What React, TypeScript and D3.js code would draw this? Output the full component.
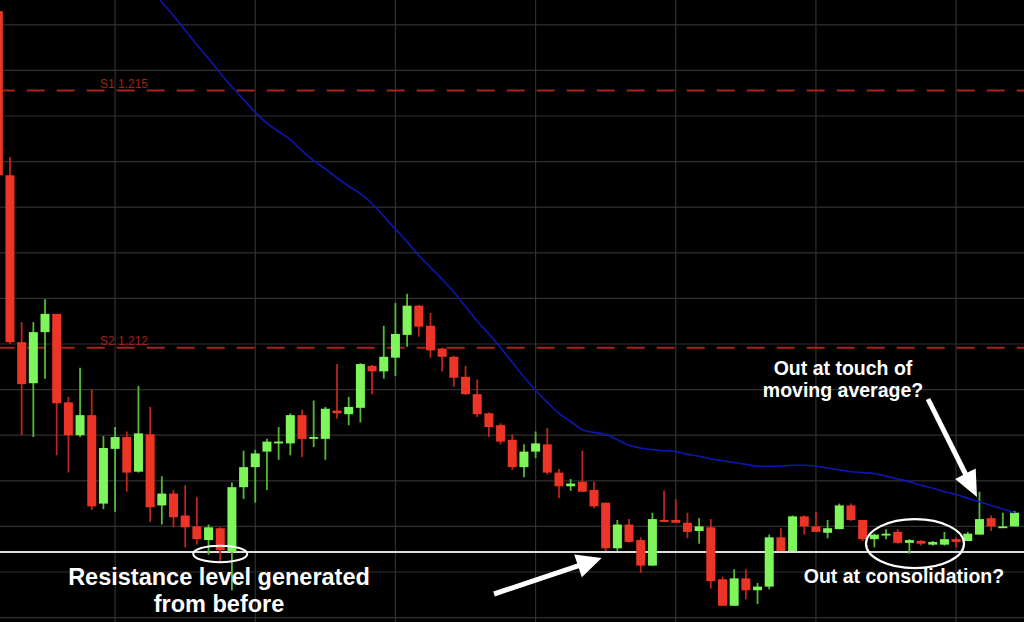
import React from "react";
import * as d3 from "d3";

// ---- Data (EUR/USD-like price candles) ----
const openP = [
  1.21615, 1.21435, 1.21252, 1.21207, 1.21263, 1.21283, 1.21186, 1.2115, 1.21172, 1.21075,
  1.21135, 1.21148, 1.2111, 1.21151, 1.21073, 1.21086, 1.21062, 1.2105, 1.21035, 1.21048,
  1.21022, 1.21093, 1.21115, 1.21132, 1.21141, 1.21141, 1.21172, 1.21146, 1.21146, 1.21177,
  1.21173, 1.2118, 1.21226, 1.2122, 1.21235, 1.2126, 1.21292, 1.2127, 1.21245, 1.21236,
  1.21214, 1.21195, 1.21174, 1.21161, 1.21145, 1.21115, 1.21132, 1.2114, 1.21109, 1.21094,
  1.21099, 1.2109, 1.21076, 1.21026, 1.21052, 1.21035, 1.21007, 1.21057, 1.21057, 1.21054,
  1.21045, 1.21049, 1.20992, 1.20963, 1.20993, 1.2098, 1.20984, 1.21038, 1.21023, 1.21061,
  1.2105, 1.21043, 1.21047, 1.21073, 1.21057, 1.21036, 1.2104, 1.21044, 1.21032, 1.21034,
  1.2103, 1.2103, 1.21036, 1.21034, 1.21041, 1.21059, 1.21049, 1.2105,
];
const closeP = [
  1.21435, 1.21252, 1.21206, 1.21263, 1.21283, 1.21185, 1.2115, 1.21172, 1.21072, 1.21136,
  1.21148, 1.21109, 1.21152, 1.21071, 1.21086, 1.2106, 1.21049, 1.21036, 1.21049, 1.21024,
  1.21093, 1.21115, 1.2113, 1.21143, 1.21143, 1.21172, 1.21146, 1.21148, 1.21179, 1.21174,
  1.21181, 1.21228, 1.2122, 1.21236, 1.21261, 1.21292, 1.21269, 1.21243, 1.21236, 1.21213,
  1.21195, 1.21173, 1.21159, 1.21143, 1.21115, 1.21132, 1.21141, 1.21109, 1.21094, 1.21097,
  1.21088, 1.21072, 1.21026, 1.21052, 1.21033, 1.21007, 1.21058, 1.21055, 1.21054, 1.21044,
  1.2105, 1.2099, 1.20963, 1.20993, 1.2098, 1.20984, 1.21038, 1.21023, 1.21061, 1.2105,
  1.21044, 1.21048, 1.21073, 1.21057, 1.21036, 1.21041, 1.21042, 1.21032, 1.21035, 1.21031,
  1.21033, 1.21036, 1.21033, 1.21042, 1.21058, 1.2105, 1.2105, 1.21065,
];
const highP = [
  1.21616, 1.21455, 1.21274, 1.21274, 1.21299, 1.21283, 1.21192, 1.21224, 1.212, 1.21149,
  1.21159, 1.21154, 1.21204, 1.21181, 1.21105, 1.2109, 1.21095, 1.21082, 1.21052, 1.21049,
  1.21098, 1.21133, 1.21134, 1.21146, 1.21159, 1.21174, 1.21178, 1.21188, 1.21181, 1.21228,
  1.21192, 1.21229, 1.21227, 1.2127, 1.21295, 1.21305, 1.21293, 1.21284, 1.21246, 1.21237,
  1.21226, 1.21211, 1.21175, 1.21163, 1.21151, 1.2114, 1.21154, 1.21158, 1.21113, 1.21102,
  1.21133, 1.21099, 1.21076, 1.21057, 1.21058, 1.21038, 1.21065, 1.21089, 1.2108, 1.21065,
  1.21059, 1.21058, 1.20995, 1.21003, 1.21003, 1.20988, 1.21041, 1.21048, 1.21062, 1.21062,
  1.21066, 1.21057, 1.21075, 1.21075, 1.21057, 1.21042, 1.21047, 1.21047, 1.21036, 1.21035,
  1.21034, 1.21044, 1.21038, 1.21044, 1.21088, 1.21062, 1.21065, 1.21067,
];
const lowP = [
  1.21435, 1.2125, 1.2115, 1.21148, 1.21212, 1.21128, 1.21109, 1.21148, 1.21068, 1.21069,
  1.21066, 1.21088, 1.21109, 1.21055, 1.21052, 1.21049, 1.21027, 1.2103, 1.21019, 1.2101,
  1.2098, 1.2108, 1.21076, 1.2109, 1.21123, 1.21128, 1.21126, 1.21137, 1.21123, 1.21168,
  1.21161, 1.21164, 1.21195, 1.21212, 1.21215, 1.21247, 1.21258, 1.21235, 1.2122, 1.21203,
  1.21194, 1.2117, 1.21148, 1.2114, 1.21112, 1.21104, 1.21125, 1.21107, 1.21081, 1.21089,
  1.21088, 1.2107, 1.21023, 1.21023, 1.21032, 1.20999, 1.21007, 1.21055, 1.21054, 1.21037,
  1.21031, 1.20982, 1.20963, 1.20963, 1.2097, 1.20965, 1.20981, 1.21023, 1.21023, 1.21041,
  1.21044, 1.21037, 1.21047, 1.21056, 1.21034, 1.21027, 1.21036, 1.21031, 1.2102, 1.21029,
  1.21029, 1.21029, 1.21027, 1.21034, 1.21041, 1.21045, 1.21049, 1.2105,
];

// Moving average, starting at candle index 13
const maStart = 13;
const maValues = [
  1.2164, 1.21625, 1.2161, 1.21594, 1.21578, 1.21563, 1.21547, 1.21532, 1.21518, 1.21504,
  1.21492, 1.21483, 1.21474, 1.21462, 1.21451, 1.21442, 1.21432, 1.21423, 1.21415, 1.21404,
  1.2139, 1.21376, 1.21362, 1.21347, 1.21334, 1.21321, 1.21307, 1.21291, 1.21275, 1.21261,
  1.21246, 1.2123, 1.21214, 1.21199, 1.21186, 1.21174, 1.21165, 1.21156, 1.21153, 1.21151,
  1.21145, 1.21139, 1.21136, 1.21134, 1.21133, 1.21132, 1.21129, 1.21127, 1.21124, 1.21122,
  1.2112, 1.21118, 1.21116, 1.21116, 1.21116, 1.21117, 1.21117, 1.21116, 1.21114, 1.21112,
  1.2111, 1.21109, 1.21108, 1.21105, 1.21102, 1.21099, 1.21095, 1.21092, 1.21088, 1.21085,
  1.21081, 1.21077, 1.21073, 1.21069, 1.21065,
];

const pivotLevels = [
  { label: "S1 1.215", price: 1.21528 },
  { label: "S2 1.212", price: 1.21246 },
];
const resistancePrice = 1.21022;
const gridPrices = d3.range(1.2095, 1.21651, 0.0005);
const gridEvery = 12;
const gridFirst = 10;

const noteResistance = ["Resistance level generated", "from before"];
const noteTouch = ["Out at touch of", "moving average?"];
const noteConsol = "Out at consolidation?";

const W = 1024;
const H = 622;

const x = d3.scaleLinear().domain([0, 87]).range([-1.7, 1014.5]);
const y = d3.scaleLinear().domain([1.21, 1.216]).range([572, 24.8]);

function arrowPath(x0: number, y0: number, x1: number, y1: number, shaftW: number, headL: number, headW: number) {
  const dx = x1 - x0, dy = y1 - y0;
  const len = Math.hypot(dx, dy);
  const ux = dx / len, uy = dy / len;
  const nx = -uy, ny = ux;
  const bx = x1 - ux * headL, by = y1 - uy * headL;
  const s = shaftW / 2;
  const pts = [
    [x0 + nx * s, y0 + ny * s],
    [bx + nx * s, by + ny * s],
    [bx + nx * headW, by + ny * headW],
    [x1, y1],
    [bx - nx * headW, by - ny * headW],
    [bx - nx * s, by - ny * s],
    [x0 - nx * s, y0 - ny * s],
  ];
  return "M" + pts.map((p) => p[0].toFixed(1) + "," + p[1].toFixed(1)).join("L") + "Z";
}

export default function App() {
  if (typeof document !== "undefined") document.body.style.margin = "0";
  const candles = openP.map((o, i) => ({ i, o, c: closeP[i], h: highP[i], l: lowP[i] }));
  const maLine = d3
    .line<number>()
    .x((_, k) => x(k + maStart))
    .y((v) => y(v))
    .curve(d3.curveMonotoneX)(maValues) as string;
  const vGrid = d3.range(gridFirst, 88, gridEvery);
  const bodyW = 9;
  const font = "'Liberation Sans', Arial, Helvetica, sans-serif";

  return (
    <svg width={W} height={H} style={{ position: "absolute", left: 0, top: 0, background: "#000", display: "block" }}>
      <rect x={0} y={0} width={W} height={H} fill="#000" />
      {gridPrices.map((p, k) => (
        <line key={"h" + k} x1={0} x2={W} y1={y(p)} y2={y(p)} stroke="#303030" strokeWidth={1.2} />
      ))}
      {vGrid.map((i) => (
        <line key={"v" + i} x1={x(i)} x2={x(i)} y1={0} y2={H} stroke="#303030" strokeWidth={1.2} />
      ))}
      {pivotLevels.map((lv) => (
        <g key={lv.label}>
          <line x1={-3.3} x2={W} y1={y(lv.price)} y2={y(lv.price)} stroke="#a8221b" strokeWidth={2} strokeDasharray="18 12" />
          <text x={100} y={y(lv.price) - 2.5} fill="#a3221c" fontSize={12} fontFamily={font}>
            {lv.label}
          </text>
        </g>
      ))}
      <line x1={0} x2={W} y1={y(resistancePrice)} y2={y(resistancePrice)} stroke="#dcdcdc" strokeWidth={2} />
      {candles.map((d) => {
        const up = d.c >= d.o;
        const top = y(Math.max(d.o, d.c));
        const bot = y(Math.min(d.o, d.c));
        const hgt = Math.max(bot - top, 1.8);
        return (
          <g key={d.i}>
            <line x1={x(d.i)} x2={x(d.i)} y1={y(d.h)} y2={y(d.l)} stroke={up ? "#52bb34" : "#bd241c"} strokeWidth={1.8} />
            <rect x={x(d.i) - bodyW / 2} y={top} width={bodyW} height={hgt} fill={up ? "#7ef55b" : "#ec3526"} />
          </g>
        );
      })}
      <path d={maLine} fill="none" stroke="#0c17b0" strokeWidth={1.6} />
      {/* annotations */}
      <ellipse cx={x(19)} cy={y(resistancePrice) + 2} rx={27} ry={8.3} fill="none" stroke="#fff" strokeWidth={2} />
      <ellipse cx={915} cy={543.7} rx={49} ry={24.5} fill="none" stroke="#fff" strokeWidth={2.2} />
      <path d={arrowPath(494, 594, 601.7, 558, 5, 25, 12)} fill="#fff" />
      <path d={arrowPath(928, 399, 977, 497, 5, 26, 11.5)} fill="#fff" />
      <g fill="#fff" fontFamily={font} fontWeight="bold" textAnchor="middle">
        <text x={219} y={585} fontSize={23.5}>{noteResistance[0]}</text>
        <text x={219} y={612} fontSize={23.5}>{noteResistance[1]}</text>
        <text x={843} y={375} fontSize={19.5}>{noteTouch[0]}</text>
        <text x={843} y={397} fontSize={19.5}>{noteTouch[1]}</text>
        <text x={904} y={583} fontSize={19.5}>{noteConsol}</text>
      </g>
    </svg>
  );
}
